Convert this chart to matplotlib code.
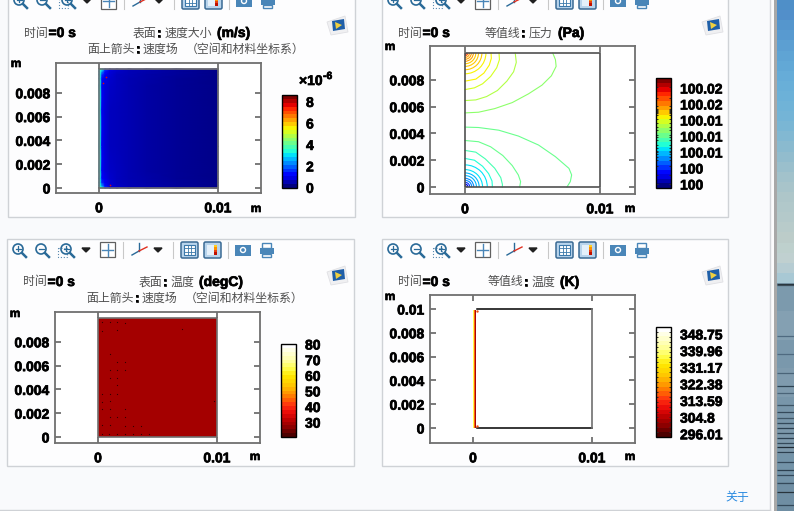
import matplotlib
matplotlib.use('Agg')
import matplotlib.pyplot as plt
import matplotlib.patheffects as pe
from matplotlib.cm import ScalarMappable
from matplotlib.colors import LinearSegmentedColormap, Normalize
from matplotlib.patches import Arc, Circle, FancyBboxPatch, Polygon, Rectangle

W, H = 794, 511
CJK = ['Noto Sans CJK SC', 'DejaVu Sans']
BOLD = ['Liberation Sans', 'DejaVu Sans']
GRAY = '#707070'

# tick values, mm
ticks_no_top = [0, 2, 4, 6, 8]
ticks_with_top = [0, 2, 4, 6, 8, 10]
y_labels = ['0', '0.002', '0.004', '0.006', '0.008', '0.01']
x_ticks = [0, 10]
x_labels = ['0', '0.01']

# velocity magnitude surface at mesh nodes, 1e-6 m/s
vel_x = [0, 0.1, 0.25, 0.5, 0.9, 1.5, 2.5, 4, 6.5, 10]
vel_y = [0, 0.2, 0.45, 0.8, 1.4, 3.5, 6.5, 8.6, 9.2, 9.55, 9.8, 10]
vel_values = [
    [3.0, 3.6, 3.2, 1.6, 0.8, 0.6, 0.42, 0.35, 0.22, 0.08],
    [2.6, 3.4, 2.4, 1.2, 0.7, 0.55, 0.42, 0.35, 0.22, 0.08],
    [2.6, 3.2, 1.5, 0.9, 0.65, 0.5, 0.42, 0.32, 0.22, 0.08],
    [2.6, 3.2, 1.0, 0.8, 0.6, 0.5, 0.4, 0.32, 0.2, 0.08],
    [2.8, 3.3, 0.9, 0.7, 0.55, 0.48, 0.4, 0.3, 0.2, 0.08],
    [2.8, 3.3, 0.85, 0.65, 0.5, 0.45, 0.38, 0.3, 0.18, 0.08],
    [2.8, 3.3, 0.85, 0.65, 0.5, 0.45, 0.38, 0.3, 0.18, 0.08],
    [2.8, 3.3, 0.9, 0.7, 0.55, 0.48, 0.4, 0.3, 0.2, 0.08],
    [2.6, 3.2, 1.0, 0.8, 0.6, 0.5, 0.4, 0.32, 0.2, 0.08],
    [2.6, 3.2, 1.5, 0.9, 0.65, 0.5, 0.42, 0.32, 0.22, 0.08],
    [2.6, 3.4, 2.4, 1.2, 0.7, 0.55, 0.42, 0.35, 0.22, 0.08],
    [3.0, 3.6, 3.2, 1.6, 0.8, 0.6, 0.42, 0.35, 0.22, 0.08],
]
vel_dot_x = [0.55, 0.3, 0.9]
vel_dot_y = [9.35, 8.8, 0.25]

# temperature surface, degC
temp_surface = [[28]]
temp_dot_x = [0.36, 1.0, 1.62, 2.3, 0.36, 1.62, 7.03, 1.0, 1.62, 2.3, 1.0, 1.62, 2.3, 1.0, 1.62,
              1.62, 0.36, 1.0, 1.62, 9.75, 0.36, 1.0, 0.36, 1.0, 2.3, 1.0, 1.62, 2.3, 0.36, 1.0,
              2.3, 2.97, 3.64, 0.31, 0.92, 1.62, 2.3, 2.97, 3.64, 4.31]
temp_dot_y = [9.63, 9.69, 9.63, 9.58, 8.9, 8.96, 9.04, 6.94, 6.32, 6.32, 5.62, 5.62, 5.67, 4.97, 4.97,
              4.35, 3.65, 3.65, 3.65, 3.0, 2.95, 3.0, 2.33, 2.33, 2.33, 1.69, 1.69, 1.69, 0.98, 0.98,
              0.93, 0.93, 0.93, 0.22, 0.28, 0.28, 0.28, 0.28, 0.28, 0.28]

# pressure contours, mm
low_curves = [
    ([0, 1, 2.5, 3.96, 5.45, 6.7, 7.7, 7.9, 7.8, 7.55], [4.47, 4.44, 4.24, 3.8, 3.13, 2.26, 1.39, 0.9, 0.4, 0]),
    ([0, 1, 1.9, 2.8, 3.5, 3.95, 4.12, 4.05], [3.47, 3.38, 3.0, 2.35, 1.6, 0.9, 0.4, 0]),
    ([0, 0.8, 1.5, 2.2, 2.65, 2.77, 2.77], [2.73, 2.6, 2.1, 1.4, 0.7, 0.2, 0]),
    ([0, 0.7, 1.3, 1.75, 2.0, 2.03], [2.13, 2.0, 1.55, 1.0, 0.45, 0]),
]
low_levels = [100.0122, 100.0118, 100.0110, 100.0098]
low_radii = [1.65, 1.3, 1.05, 0.85, 0.65, 0.5, 0.35, 0.22, 0.1]
low_radii_levels = [100.0089, 100.00835, 100.0081, 100.0075, 100.0067, 100.0059, 100.0045, 100.0023, 100.0001]
high_curves = [
    ([0, 1, 2.2, 3.5, 4.7, 5.7, 6.4, 6.75, 6.7, 6.5], [5.53, 5.58, 5.85, 6.3, 6.95, 7.6, 8.3, 9.0, 9.5, 10]),
    ([0, 0.8, 1.6, 2.4, 3.1, 3.6, 3.8, 3.72], [6.45, 6.5, 6.75, 7.2, 7.9, 8.6, 9.3, 10]),
    ([0, 0.7, 1.3, 1.9, 2.35, 2.55, 2.52], [7.27, 7.4, 7.7, 8.25, 8.9, 9.5, 10]),
    ([0, 0.8, 1.4, 1.8, 1.95, 1.93], [7.9, 8.05, 8.5, 9.1, 9.6, 10]),
]
high_levels = [100.0134, 100.0142, 100.0152, 100.0162]
high_radii = [1.55, 1.25, 1.0, 0.8, 0.62, 0.47, 0.33, 0.2, 0.1]
high_radii_levels = [100.01715, 100.0177, 100.0180, 100.0183, 100.0185, 100.0188, 100.0196, 100.0216, 100.0243]

# temperature contours along the heated wall, mm
wall_x = [0.0, 0.08, 0.16]
wall_top = [9.95, 9.95, 9.9]
wall_bottom = [0.05, 0.05, 0.1]
wall_levels = [336, 318, 303]
corner_x = [0.3, 0.3]
corner_y = [9.85, 0.15]

# colour bars
vel_ticks = [0, 2, 4, 6, 8]
vel_tick_labels = ['0', '2', '4', '6', '8']
p_ticks = [100.0, 100.004, 100.008, 100.012, 100.016, 100.02, 100.024]
p_tick_labels = ['100', '100', '100.01', '100.01', '100.01', '100.02', '100.02']
t_ticks = [30, 40, 50, 60, 70, 80]
t_tick_labels = ['30', '40', '50', '60', '70', '80']
k_ticks = [296.01, 304.8, 313.59, 322.38, 331.17, 339.96, 348.75]
k_tick_labels = ['296.01', '304.8', '313.59', '322.38', '331.17', '339.96', '348.75']

heat_colors = ['#4d0000', '#8a0000', '#b80000', '#e80808', '#ff3010', '#ff7000', '#ffa800',
               '#ffd000', '#ffe800', '#ffff50', '#ffffa0', '#ffffd0', '#ffffff']

# desktop photo at the right edge, top to bottom
sky_rows = ['#4f8fc8', '#528fca', '#5596cd', '#589ad0', '#5c9fd2', '#5fa4d4', '#62a8d6', '#66acd8',
            '#69afd8', '#6cb1d8', '#70b3d7', '#74b4d6', '#7ab6d4', '#82b8d2', '#8abacf', '#92bccd',
            '#9abfcc', '#a2c2cb', '#a8c4ca', '#aec6c9', '#b1c8ca', '#b4c9ca', '#b8cbca', '#bcccc9',
            '#bed0cd', '#c0d0d0', '#b6ccd2', '#a8c8d4']
sea_rows = ['#7c9aad', '#84a0b2', '#7a98ac', '#7f9bae', '#7896aa', '#7c98ab', '#7393a8', '#6f8ea3']
stripe_y = [284, 285, 336, 354, 373, 386, 393, 405, 412, 418, 423, 428, 433, 438, 443, 447, 452, 462, 470, 475, 483, 492, 505]
stripe_colors = ['#28343c', '#3c4c58', '#4f6a80', '#4f6a80', '#4a6478', '#2f4454', '#4a6478', '#3f5666', '#34495a', '#3f5666',
                 '#34495a', '#2c4050', '#34495a', '#2c4050', '#34495a', '#1f2c36', '#2c4050', '#34495a', '#2c4050', '#34495a',
                 '#34495a', '#28343c', '#34495a']

jet = plt.get_cmap('jet', 24)
jet_smooth = plt.get_cmap('jet')
heat = LinearSegmentedColormap.from_list('heat', heat_colors, N=24)

fig = plt.figure(figsize=(W / 100, H / 100), dpi=100, facecolor='#f9fafc')
bg = fig.add_axes([0, 0, 1, 1])
bg.set_xlim(0, W)
bg.set_ylim(H, 0)
bg.axis('off')


def px_axes(left, top, right, bottom):
    return fig.add_axes([left / W, 1 - bottom / H, (right - left) / W, (bottom - top) / H])


def label(x, y, s, fam=BOLD, size=10, weight='bold', color='black', ha='left', z=5):
    bg.text(x, y, s, family=fam, fontsize=size, fontweight=weight, color=color, ha=ha, va='center', zorder=z)


def cn(x, y, s):
    label(x, y, s, fam=CJK, size=8.6, weight='normal', color='#505050')


def magnifier(x, y, kind):
    c = '#2a6a98'
    bg.add_patch(Circle((x - 1, y - 1), 5, fill=False, ec=c, lw=1.2))
    bg.plot([x + 3, x + 7], [y + 3, y + 7], color=c, lw=1.8)
    bg.plot([x - 3.5, x + 1.5], [y - 1, y - 1], color=c, lw=0.9)
    if kind == 'plus':
        bg.plot([x - 1, x - 1], [y - 3.5, y + 1.5], color=c, lw=0.9)


def arrow_down(x, y):
    bg.add_patch(Polygon([(x - 4, y - 2), (x + 4, y - 2), (x, y + 2)], color='#202020'))


def toolbar(x0, y):
    blue = '#4a86b8'
    magnifier(x0 + 19, y, 'plus')
    magnifier(x0 + 42, y, 'minus')
    bg.add_patch(Rectangle((x0 + 58, y - 2), 9, 9, fill=False, ec='#5a8ab0', lw=0.8, ls=':'))
    magnifier(x0 + 67, y, 'plus')
    arrow_down(x0 + 86, y)
    bg.add_patch(Rectangle((x0 + 100, y - 7.5), 15, 15, fc='white', ec='#606060', lw=0.9))
    bg.plot([x0 + 107.5, x0 + 107.5], [y - 6, y + 6], color=blue, lw=1)
    bg.plot([x0 + 102, x0 + 113], [y, y], color=blue, lw=1)
    bg.plot([x0 + 123, x0 + 123], [y - 8, y + 8], color='#c8c8c8', lw=0.8)
    bg.plot([x0 + 139, x0 + 139], [y - 7, y + 1], color='#2a6a98', lw=1)
    bg.plot([x0 + 139, x0 + 132], [y + 1, y + 5], color='#2a6a98', lw=1)
    bg.plot([x0 + 139, x0 + 147], [y + 1, y - 3], color='#e03020', lw=1)
    arrow_down(x0 + 158, y)
    bg.plot([x0 + 173, x0 + 173], [y - 8, y + 8], color='#c8c8c8', lw=0.8)
    for bx in [181, 204]:
        bg.add_patch(FancyBboxPatch((x0 + bx, y - 8), 17, 16, boxstyle='round,pad=0,rounding_size=1.5',
                                    fc='#b8d4ec', ec='#3a6a94', lw=1.1))
    bg.add_patch(Rectangle((x0 + 184, y - 5), 11, 10, fc='white', ec='#3a78aa', lw=0.8))
    for d in [3.7, 7.3]:
        bg.plot([x0 + 184 + d, x0 + 184 + d], [y - 5, y + 5], color='#3a78aa', lw=0.6)
    for d in [3.3, 6.7]:
        bg.plot([x0 + 184, x0 + 195], [y - 5 + d, y - 5 + d], color='#3a78aa', lw=0.6)
    bg.add_patch(Rectangle((x0 + 207, y - 5), 7, 10, fc='#e4f0fa', ec='none'))
    for d, c in zip([0, 2.5, 5, 7.5], ['#ffd020', '#ff9000', '#e84010', '#c01000']):
        bg.add_patch(Rectangle((x0 + 214, y - 5 + d), 3, 2.5, fc=c, ec='none'))
    bg.plot([x0 + 228, x0 + 228], [y - 8, y + 8], color='#c8c8c8', lw=0.8)
    bg.add_patch(Rectangle((x0 + 235, y - 5), 16, 11, fc=blue, ec='none'))
    bg.add_patch(Circle((x0 + 243, y), 3.2, fc='white', ec='none'))
    bg.add_patch(Circle((x0 + 243, y), 1.8, fc=blue, ec='none'))
    bg.add_patch(Rectangle((x0 + 262, y - 7), 9, 5, fc='white', ec=blue, lw=1))
    bg.add_patch(Rectangle((x0 + 259.5, y - 2), 14, 6, fc=blue, ec='none'))
    bg.add_patch(Rectangle((x0 + 262, y + 4), 9, 3, fc='white', ec=blue, lw=1))


def logo(x, y):
    bg.add_patch(Polygon([(x - 11, y - 3), (x + 7, y - 9), (x + 10, y + 7), (x - 7, y + 10)], fc='#f0f0f2', ec='#e0e0e4', lw=0.6))
    bg.add_patch(Polygon([(x - 6, y - 4), (x + 6, y - 6), (x + 7, y + 4), (x - 5, y + 6)], fc='#1f5fa8', ec='none'))
    bg.add_patch(Polygon([(x - 3, y - 3), (x + 4, y), (x - 2, y + 4)], fc='#f0d040', ec='none'))


def panel_frame(x0, x1, y0, y1):
    bg.add_patch(Rectangle((x0, y0), x1 - x0, y1 - y0, fc='#fdfdfe', ec='#cfd2d6', lw=1, zorder=0))


def plot_axes(box, x0px, x1px, y0px, y1px, yticks):
    ax = px_axes(*box)
    sx = 10 / (x1px - x0px)
    sy = 10 / (y0px - y1px)
    ax.set_xlim((box[0] - x0px) * sx, (box[2] - x0px) * sx)
    ax.set_ylim((y0px - box[3]) * sy, (y0px - box[1]) * sy)
    for s in ax.spines.values():
        s.set_color(GRAY)
        s.set_linewidth(1.3)
    ax.set_xticks(x_ticks)
    ax.set_xticklabels(x_labels, family=BOLD, fontweight='bold', fontsize=10)
    ax.set_yticks(yticks)
    ax.set_yticklabels(y_labels[:len(yticks)], family=BOLD, fontweight='bold', fontsize=10)
    ax.tick_params(axis='both', direction='in', length=4.5, width=1.3, color=GRAY, top=True, right=True)
    ax.tick_params(axis='x', pad=6)
    ax.tick_params(axis='y', pad=4)
    return ax


def domain(ax, color=GRAY, lw=1.2):
    ax.add_patch(Rectangle((0, 0), 10, 10, fill=False, ec=color, lw=lw, zorder=4))


def colorbar(box, cmap, vmin, vmax, ticks, labels, marks=None):
    cax = px_axes(*box)
    cb = fig.colorbar(ScalarMappable(Normalize(vmin, vmax), cmap), cax=cax)
    cb.set_ticks(ticks)
    cb.set_ticklabels(labels, family=BOLD, fontweight='bold', fontsize=10)
    cb.ax.tick_params(length=0, pad=6.5)
    cb.outline.set_edgecolor('black')
    cb.outline.set_linewidth(1)
    if marks is not None:
        cb.ax.set_yticks(marks, minor=True)
        cb.ax.tick_params(which='minor', direction='in', length=1.5, width=0.7, color='#303030', left=True, right=True)
    return cb


def strip(top, bottom, rows):
    # plain rectangles, drawn on the page axes with no antialias seams
    step = (bottom - top) / len(rows)
    for i, c in enumerate(rows):
        bg.add_patch(Rectangle((777, top + i * step), W - 777, step + 0.5, fc=c, ec='none', zorder=1))


# page furniture
panel_frame(7.5, 354.5, -5, 217)
panel_frame(381.5, 728, -5, 217)
panel_frame(7, 353.5, 239.5, 466)
panel_frame(381.5, 728, 239.5, 466)
toolbar(1, 1)
toolbar(375, 1)
toolbar(0, 250)
toolbar(375, 250)
logo(338, 25)
logo(713, 25)
logo(338, 275)
logo(713, 275)
bg.plot([0, 770], [510, 510], color='#cfd2d6', lw=1)
bg.plot([770, 770], [0, H], color='#d4d6da', lw=1)
bg.add_patch(Rectangle((771, 0), 3, H, fc='#fbfbfc', ec='none'))
bg.add_patch(Rectangle((774, 0), 3, H, fc='#a8a8a8', ec='none'))
label(725, 498, '关于', fam=CJK, size=8.6, weight='normal', color='#2a8ae0')

strip(0, 283, sky_rows)
strip(283, H, sea_rows)
bg.hlines(stripe_y, 777, W, colors=stripe_colors, lw=0.9, zorder=2)
bg.set_xlim(0, W)
bg.set_ylim(H, 0)

# panel 1: velocity surface
ax1 = plot_axes((56, 63, 261, 193), 99, 218, 188, 69, ticks_no_top)
ax1.pcolormesh(vel_x, vel_y, vel_values, cmap=jet_smooth, vmin=0, vmax=8.6, shading='gouraud')
ax1.scatter(vel_dot_x, vel_dot_y, s=1.5, color='#d01010', linewidths=0, zorder=5)
domain(ax1)
colorbar((282, 95, 297, 188), jet, -0.06, 8.6, vel_ticks, vel_tick_labels)

# panel 2: pressure contours
p_norm = Normalize(99.999, 100.0265)
ax2 = plot_axes((430, 46, 635, 194), 465, 600, 187, 53, ticks_no_top)
for (cx, cy), level in zip(low_curves + high_curves, low_levels + high_levels):
    ax2.plot(cx, cy, color=jet(p_norm(level)), lw=0.8)
for r, level in zip(low_radii, low_radii_levels):
    ax2.add_patch(Arc((0, 0), 2 * r, 2 * r, theta1=0, theta2=90, ec=jet(p_norm(level)), lw=0.8))
for r, level in zip(high_radii, high_radii_levels):
    ax2.add_patch(Arc((0, 10), 2 * r, 2 * r, theta1=270, theta2=360, ec=jet(p_norm(level)), lw=0.8))
domain(ax2, color='#505050')
colorbar((656, 78, 671, 188), jet, 99.999, 100.0265, p_ticks, p_tick_labels,
         marks=low_radii_levels + low_levels + high_levels + high_radii_levels)

# panel 3: temperature surface
ax3 = plot_axes((55, 312, 260, 443), 98, 217, 437, 318, ticks_no_top)
ax3.pcolormesh([0, 10], [0, 10], temp_surface, cmap=heat, vmin=20.5, vmax=80, shading='flat')
ax3.scatter(temp_dot_x, temp_dot_y, s=0.8, color='#300000', linewidths=0, zorder=5)
domain(ax3)
colorbar((281, 344, 296, 437), heat, 20.5, 80, t_ticks, t_tick_labels)

# panel 4: temperature contours
k_norm = Normalize(294.3, 352.4)
ax4 = plot_axes((430, 295, 635, 443), 473, 592, 428, 309, ticks_with_top)
ax4.plot([0.3, 10], [0, 0], color='black', lw=1.1, zorder=5)
ax4.plot([0.3, 10], [10, 10], color='black', lw=1.1, zorder=5)
ax4.plot([10, 10], [0, 10], color=GRAY, lw=1.2, zorder=5)
for wx, y0, y1, level in zip(wall_x, wall_bottom, wall_top, wall_levels):
    ax4.plot([wx, wx], [y0, y1], color=heat(k_norm(level)), lw=0.7, zorder=6)
ax4.scatter(corner_x, corner_y, s=3, color='#f05010', linewidths=0, zorder=6)
colorbar((656, 327, 671, 437), heat, 294.3, 352.4, k_ticks, k_tick_labels,
         marks=[294.3 + 2.65 * i for i in range(1, 22)])

# titles
for tx, ty in [(24, 33), (398, 33), (23, 282), (398, 282)]:
    cn(tx, ty, '时间')
    label(tx + 24.5, ty, '=0 s')

cn(133, 33, '表面')
label(157, 33, ':')
cn(165, 33, '速度大小')
label(217, 33, '(m/s)')
cn(87, 49, '面上箭头')
label(136, 49, ':')
cn(143, 49, '速度场')
cn(186, 49, '（空间和材料坐标系）')

cn(485, 33, '等值线')
label(521, 33, ':')
cn(529, 33, '压力')
label(558, 33, '(Pa)')

cn(139, 282, '表面')
label(163, 282, ':')
cn(171, 282, '温度')
label(199, 282, '(degC)')
cn(86, 298, '面上箭头')
label(135, 298, ':')
cn(142, 298, '速度场')
cn(185, 298, '（空间和材料坐标系）')

cn(488, 282, '等值线')
label(524, 282, ':')
cn(532, 282, '温度')
label(560, 282, '(K)')

# axis units
for ux, uy in [(16, 64), (390, 47), (15, 314), (390, 297), (256, 209), (630, 209), (255, 457), (630, 457)]:
    label(ux, uy, 'm', size=8.5, ha='center', z=6)
label(299, 81, '×10')
label(323, 76, '-6', size=7.5)

# the original labels are heavier than Liberation bold
for t in fig.findobj(matplotlib.text.Text):
    if t.get_fontweight() == 'bold':
        t.set_path_effects([pe.withStroke(linewidth=0.5, foreground='black')])

fig.savefig('out.png', dpi=100, facecolor=fig.get_facecolor())
